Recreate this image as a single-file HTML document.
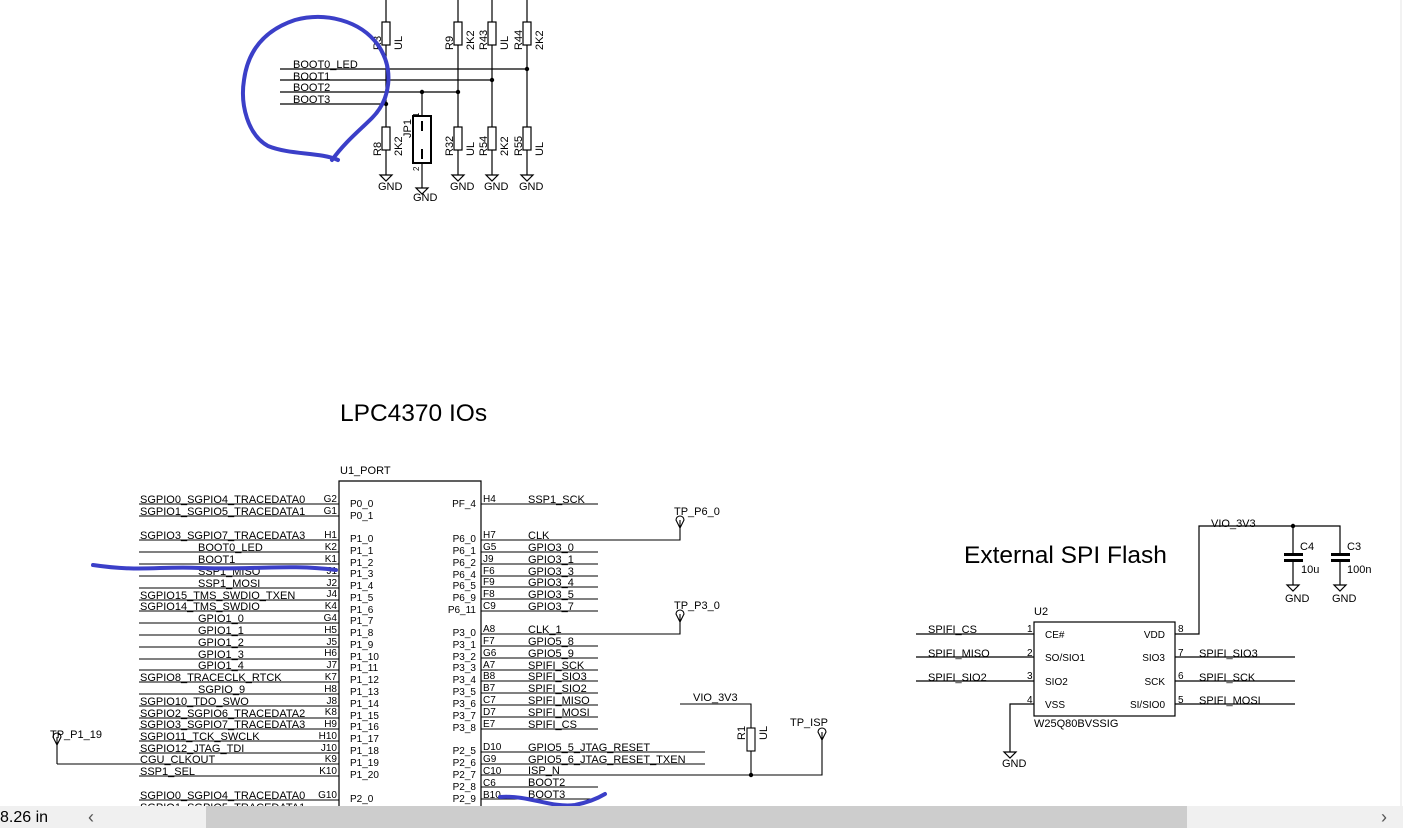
<!DOCTYPE html>
<html><head><meta charset="utf-8"><style>
body{margin:0;width:1403px;height:828px;overflow:hidden;background:#fff;position:relative}
svg{position:absolute;left:0;top:0}
text{font-family:"Liberation Sans",Arial,sans-serif;fill:#000}
.s{font-size:11px}.p{font-size:10px}
.bar{position:absolute;left:0;top:806px;width:1403px;height:22px;background:#f0f0f0}
</style></head><body>
<svg width="1403" height="828" viewBox="0 0 1403 828">
<g stroke="#000" stroke-width="1.2" fill="none">
<line x1="386" y1="0" x2="386" y2="175"/>
<line x1="458" y1="0" x2="458" y2="175"/>
<line x1="492" y1="0" x2="492" y2="175"/>
<line x1="527" y1="0" x2="527" y2="175"/>
<line x1="280" y1="69" x2="527" y2="69"/>
<line x1="280" y1="80" x2="492" y2="80"/>
<line x1="280" y1="92" x2="458" y2="92"/>
<line x1="280" y1="104" x2="386" y2="104"/>
<line x1="422" y1="92" x2="422" y2="188"/>
<rect x="382" y="22" width="8" height="23" fill="#fff"/>
<rect x="454" y="22" width="8" height="23" fill="#fff"/>
<rect x="488" y="22" width="8" height="23" fill="#fff"/>
<rect x="523" y="22" width="8" height="23" fill="#fff"/>
<rect x="382" y="127" width="8" height="23" fill="#fff"/>
<rect x="454" y="127" width="8" height="23" fill="#fff"/>
<rect x="488" y="127" width="8" height="23" fill="#fff"/>
<rect x="523" y="127" width="8" height="23" fill="#fff"/>
<rect x="413" y="116" width="18" height="47" fill="#fff" stroke-width="2"/>
<line x1="422" y1="121" x2="422" y2="131" stroke-width="2"/>
<line x1="422" y1="149" x2="422" y2="159" stroke-width="2"/>
<path d="M380 175h12l-6 6z M452 175h12l-6 6z M486 175h12l-6 6z M521 175h12l-6 6z M416 188h12l-6 6z"/>
</g>
<g fill="#000"><circle cx="527" cy="69" r="2.2"/><circle cx="492" cy="80" r="2.2"/><circle cx="458" cy="92" r="2.2"/><circle cx="422" cy="92" r="2.2"/><circle cx="386" cy="104" r="2.2"/></g>
<g class="s">
<text x="293" y="68">BOOT0_LED</text><text x="293" y="80">BOOT1</text><text x="293" y="91">BOOT2</text><text x="293" y="103">BOOT3</text>
<text x="378" y="190">GND</text><text x="450" y="190">GND</text><text x="484" y="190">GND</text><text x="519" y="190">GND</text><text x="413" y="201">GND</text>
</g>
<g class="s">
<text transform="translate(381,50) rotate(-90)">R3</text><text transform="translate(402,50) rotate(-90)">UL</text>
<text transform="translate(453,50) rotate(-90)">R9</text><text transform="translate(474,50) rotate(-90)">2K2</text>
<text transform="translate(487,50) rotate(-90)">R43</text><text transform="translate(508,50) rotate(-90)">UL</text>
<text transform="translate(522,50) rotate(-90)">R44</text><text transform="translate(543,50) rotate(-90)">2K2</text>
<text transform="translate(381,156) rotate(-90)">R8</text><text transform="translate(402,156) rotate(-90)">2K2</text>
<text transform="translate(453,156) rotate(-90)">R32</text><text transform="translate(474,156) rotate(-90)">UL</text>
<text transform="translate(487,156) rotate(-90)">R54</text><text transform="translate(508,156) rotate(-90)">2K2</text>
<text transform="translate(522,156) rotate(-90)">R55</text><text transform="translate(543,156) rotate(-90)">UL</text>
<text transform="translate(411,138) rotate(-90)">JP1</text>
<text transform="translate(419,117) rotate(-90)" style="font-size:8px">1</text>
<text transform="translate(419,171) rotate(-90)" style="font-size:8px">2</text>
</g>

<text x="340" y="421" style="font-size:24.5px">LPC4370 IOs</text>
<text class="s" x="340" y="474">U1_PORT</text>
<g stroke="#000" stroke-width="1.2" fill="none">
<path d="M339 806V481H481V806"/>
</g>
<g stroke="#000" stroke-width="1.1">
<line x1="139" y1="504" x2="339" y2="504"/><line x1="139" y1="516" x2="339" y2="516"/>
<line x1="139" y1="540" x2="339" y2="540"/><line x1="139" y1="552" x2="339" y2="552"/>
<line x1="139" y1="564" x2="339" y2="564"/><line x1="139" y1="576" x2="339" y2="576"/>
<line x1="139" y1="588" x2="339" y2="588"/><line x1="139" y1="600" x2="339" y2="600"/>
<line x1="139" y1="611" x2="339" y2="611"/><line x1="139" y1="623" x2="339" y2="623"/>
<line x1="139" y1="635" x2="339" y2="635"/><line x1="139" y1="647" x2="339" y2="647"/>
<line x1="139" y1="659" x2="339" y2="659"/><line x1="139" y1="670" x2="339" y2="670"/>
<line x1="139" y1="682" x2="339" y2="682"/><line x1="139" y1="694" x2="339" y2="694"/>
<line x1="139" y1="706" x2="339" y2="706"/><line x1="139" y1="718" x2="339" y2="718"/>
<line x1="139" y1="729" x2="339" y2="729"/><line x1="139" y1="741" x2="339" y2="741"/>
<line x1="139" y1="753" x2="339" y2="753"/><line x1="57" y1="764" x2="339" y2="764"/>
<line x1="139" y1="776" x2="339" y2="776"/><line x1="139" y1="800" x2="339" y2="800"/>
<line x1="57" y1="745" x2="57" y2="764"/>
</g>
<g class="s">
<text x="140" y="503">SGPIO0_SGPIO4_TRACEDATA0</text><text x="140" y="515">SGPIO1_SGPIO5_TRACEDATA1</text>
<text x="140" y="539">SGPIO3_SGPIO7_TRACEDATA3</text><text x="198" y="551">BOOT0_LED</text>
<text x="198" y="563">BOOT1</text><text x="198" y="575">SSP1_MISO</text><text x="198" y="587">SSP1_MOSI</text>
<text x="140" y="599">SGPIO15_TMS_SWDIO_TXEN</text><text x="140" y="610">SGPIO14_TMS_SWDIO</text>
<text x="198" y="622">GPIO1_0</text><text x="198" y="634">GPIO1_1</text><text x="198" y="646">GPIO1_2</text>
<text x="198" y="658">GPIO1_3</text><text x="198" y="669">GPIO1_4</text>
<text x="140" y="681">SGPIO8_TRACECLK_RTCK</text><text x="198" y="693">SGPIO_9</text>
<text x="140" y="705">SGPIO10_TDO_SWO</text><text x="140" y="717">SGPIO2_SGPIO6_TRACEDATA2</text>
<text x="140" y="728">SGPIO3_SGPIO7_TRACEDATA3</text><text x="140" y="740">SGPIO11_TCK_SWCLK</text>
<text x="140" y="752">SGPIO12_JTAG_TDI</text><text x="140" y="763">CGU_CLKOUT</text>
<text x="140" y="775">SSP1_SEL</text><text x="140" y="799">SGPIO0_SGPIO4_TRACEDATA0</text>
<text x="140" y="811">SGPIO1_SGPIO5_TRACEDATA1</text>
<text x="50" y="738">TP_P1_19</text>
</g>
<g class="p" text-anchor="end">
<text x="337" y="502">G2</text><text x="337" y="514">G1</text><text x="337" y="538">H1</text><text x="337" y="550">K2</text>
<text x="337" y="562">K1</text><text x="337" y="574">J1</text><text x="337" y="586">J2</text><text x="337" y="597">J4</text>
<text x="337" y="609">K4</text><text x="337" y="621">G4</text><text x="337" y="633">H5</text><text x="337" y="645">J5</text>
<text x="337" y="656">H6</text><text x="337" y="668">J7</text><text x="337" y="680">K7</text><text x="337" y="692">H8</text>
<text x="337" y="704">J8</text><text x="337" y="715">K8</text><text x="337" y="727">H9</text><text x="337" y="739">H10</text>
<text x="337" y="751">J10</text><text x="337" y="762">K9</text><text x="337" y="774">K10</text><text x="337" y="798">G10</text>
</g>
<g class="p">
<text x="350" y="507">P0_0</text><text x="350" y="519">P0_1</text><text x="350" y="542">P1_0</text><text x="350" y="554">P1_1</text>
<text x="350" y="566">P1_2</text><text x="350" y="577">P1_3</text><text x="350" y="589">P1_4</text><text x="350" y="601">P1_5</text>
<text x="350" y="613">P1_6</text><text x="350" y="624">P1_7</text><text x="350" y="636">P1_8</text><text x="350" y="648">P1_9</text>
<text x="350" y="660">P1_10</text><text x="350" y="671">P1_11</text><text x="350" y="683">P1_12</text><text x="350" y="695">P1_13</text>
<text x="350" y="707">P1_14</text><text x="350" y="719">P1_15</text><text x="350" y="730">P1_16</text><text x="350" y="742">P1_17</text>
<text x="350" y="754">P1_18</text><text x="350" y="766">P1_19</text><text x="350" y="778">P1_20</text><text x="350" y="802">P2_0</text>
</g>
<g class="p" text-anchor="end">
<text x="476" y="507">PF_4</text><text x="476" y="542">P6_0</text><text x="476" y="554">P6_1</text><text x="476" y="566">P6_2</text>
<text x="476" y="578">P6_4</text><text x="476" y="589">P6_5</text><text x="476" y="601">P6_9</text><text x="476" y="613">P6_11</text>
<text x="476" y="636">P3_0</text><text x="476" y="648">P3_1</text><text x="476" y="660">P3_2</text><text x="476" y="671">P3_3</text>
<text x="476" y="683">P3_4</text><text x="476" y="695">P3_5</text><text x="476" y="707">P3_6</text><text x="476" y="719">P3_7</text>
<text x="476" y="731">P3_8</text><text x="476" y="754">P2_5</text><text x="476" y="766">P2_6</text><text x="476" y="778">P2_7</text>
<text x="476" y="790">P2_8</text><text x="476" y="802">P2_9</text>
</g>
<g stroke="#000" stroke-width="1.1" fill="none">
<line x1="481" y1="504" x2="598" y2="504"/>
<path d="M481 540H680V528"/>
<line x1="481" y1="552" x2="598" y2="552"/><line x1="481" y1="564" x2="598" y2="564"/>
<line x1="481" y1="576" x2="598" y2="576"/><line x1="481" y1="587" x2="598" y2="587"/>
<line x1="481" y1="599" x2="598" y2="599"/><line x1="481" y1="611" x2="598" y2="611"/>
<path d="M481 634H680V622"/>
<line x1="481" y1="646" x2="598" y2="646"/><line x1="481" y1="658" x2="598" y2="658"/>
<line x1="481" y1="670" x2="598" y2="670"/><line x1="481" y1="681" x2="598" y2="681"/>
<line x1="481" y1="693" x2="598" y2="693"/><line x1="481" y1="705" x2="598" y2="705"/>
<line x1="481" y1="717" x2="598" y2="717"/><line x1="481" y1="729" x2="598" y2="729"/>
<line x1="481" y1="752" x2="705" y2="752"/><line x1="481" y1="764" x2="705" y2="764"/>
<path d="M481 775H822V740"/>
<line x1="481" y1="787" x2="598" y2="787"/><line x1="481" y1="799" x2="598" y2="799"/>
<path d="M680 704H751V775"/>
<rect x="747" y="728" width="8" height="23" fill="#fff"/>
<path d="M680 528l-4-8a4 4 0 1 1 8 0z M680 520v8"/>
<path d="M680 622l-4-8a4 4 0 1 1 8 0z M680 614v8"/>
<path d="M822 740l-4-8a4 4 0 1 1 8 0z M822 732v8"/>
<path d="M57 745l-4-8a4 4 0 1 1 8 0z M57 737v8"/>
</g>
<circle cx="751" cy="775" r="2.2" fill="#000"/>
<g class="p">
<text x="483" y="502">H4</text><text x="483" y="538">H7</text><text x="483" y="550">G5</text><text x="483" y="562">J9</text>
<text x="483" y="574">F6</text><text x="483" y="585">F9</text><text x="483" y="597">F8</text><text x="483" y="609">C9</text>
<text x="483" y="632">A8</text><text x="483" y="644">F7</text><text x="483" y="656">G6</text><text x="483" y="668">A7</text>
<text x="483" y="679">B8</text><text x="483" y="691">B7</text><text x="483" y="703">C7</text><text x="483" y="715">D7</text>
<text x="483" y="727">E7</text><text x="483" y="750">D10</text><text x="483" y="762">G9</text><text x="483" y="774">C10</text>
<text x="483" y="786">C6</text><text x="483" y="798">B10</text>
</g>
<g class="s">
<text x="528" y="503">SSP1_SCK</text><text x="528" y="539">CLK</text><text x="528" y="551">GPIO3_0</text><text x="528" y="563">GPIO3_1</text>
<text x="528" y="575">GPIO3_3</text><text x="528" y="586">GPIO3_4</text><text x="528" y="598">GPIO3_5</text><text x="528" y="610">GPIO3_7</text>
<text x="528" y="633">CLK_1</text><text x="528" y="645">GPIO5_8</text><text x="528" y="657">GPIO5_9</text><text x="528" y="669">SPIFI_SCK</text>
<text x="528" y="680">SPIFI_SIO3</text><text x="528" y="692">SPIFI_SIO2</text><text x="528" y="704">SPIFI_MISO</text>
<text x="528" y="716">SPIFI_MOSI</text><text x="528" y="728">SPIFI_CS</text><text x="528" y="751">GPIO5_5_JTAG_RESET</text>
<text x="528" y="763">GPIO5_6_JTAG_RESET_TXEN</text><text x="528" y="774">ISP_N</text><text x="528" y="786">BOOT2</text>
<text x="528" y="798">BOOT3</text>
<text x="674" y="515">TP_P6_0</text><text x="674" y="609">TP_P3_0</text>
<text x="693" y="701">VIO_3V3</text><text x="790" y="726">TP_ISP</text>
<text transform="translate(745,740) rotate(-90)">R1</text><text transform="translate(767,740) rotate(-90)">UL</text>
</g>

<text x="964" y="563" style="font-size:24.5px">External SPI Flash</text>
<g stroke="#000" stroke-width="1.2" fill="none">
<rect x="1034" y="622" width="141" height="94"/>
<line x1="916" y1="634" x2="1034" y2="634"/><line x1="916" y1="657" x2="1034" y2="657"/>
<line x1="916" y1="681" x2="1034" y2="681"/>
<path d="M1034 704H1010V752"/>
<path d="M1175 634H1199V526H1340V585"/>
<line x1="1293" y1="526" x2="1293" y2="585"/>
<line x1="1175" y1="657" x2="1295" y2="657"/><line x1="1175" y1="681" x2="1295" y2="681"/>
<line x1="1175" y1="704" x2="1295" y2="704"/>
<path d="M1004 752h12l-6 6z M1287 585h12l-6 6z M1334 585h12l-6 6z"/>
</g>
<rect x="1284" y="554" width="19" height="8" fill="#fff"/>
<rect x="1331" y="554" width="19" height="8" fill="#fff"/>
<g fill="#000">
<rect x="1284" y="553" width="19" height="3"/><rect x="1284" y="559" width="19" height="3"/>
<rect x="1331" y="553" width="19" height="3"/><rect x="1331" y="559" width="19" height="3"/>
<circle cx="1293" cy="526" r="2.2"/>
</g>
<g class="s">
<text x="1034" y="615">U2</text><text x="1034" y="727">W25Q80BVSSIG</text>
<text x="928" y="633">SPIFI_CS</text><text x="928" y="657">SPIFI_MISO</text><text x="928" y="681">SPIFI_SIO2</text>
<text x="1199" y="657">SPIFI_SIO3</text><text x="1199" y="681">SPIFI_SCK</text><text x="1199" y="704">SPIFI_MOSI</text>
<text x="1211" y="527">VIO_3V3</text>
<text x="1300" y="550">C4</text><text x="1301" y="573">10u</text><text x="1347" y="550">C3</text><text x="1347" y="573">100n</text>
<text x="1285" y="602">GND</text><text x="1332" y="602">GND</text><text x="1002" y="767">GND</text>
</g>
<g class="p">
<text x="1045" y="638">CE#</text><text x="1045" y="661">SO/SIO1</text><text x="1045" y="685">SIO2</text><text x="1045" y="708">VSS</text>
<text x="1165" y="638" text-anchor="end">VDD</text><text x="1165" y="661" text-anchor="end">SIO3</text>
<text x="1165" y="685" text-anchor="end">SCK</text><text x="1165" y="708" text-anchor="end">SI/SIO0</text>
<text x="1027" y="632">1</text><text x="1027" y="656">2</text><text x="1027" y="679">3</text><text x="1027" y="703">4</text>
<text x="1178" y="632">8</text><text x="1178" y="656">7</text><text x="1178" y="679">6</text><text x="1178" y="703">5</text>
</g>

<g stroke="#3b3fc8" stroke-width="4" fill="none" stroke-linecap="round">
<path d="M338 160C320 152 290 155 268 146C248 135 240 105 244 80C248 50 265 30 295 20C325 12 360 20 378 45C395 70 390 100 372 118C360 130 345 142 332 160"/>
<path d="M93 565C140 572 160 566 200 568C250 570 290 564 336 570"/>
<path d="M500 797C530 795 550 808 575 805C590 802 600 797 605 794"/>
</g>
<line x1="1401" y1="0" x2="1401" y2="806" stroke="#e6e6e6"/>
</svg>
<div class="bar">
 <div style="position:absolute;left:0;top:0;width:82px;height:22px;background:#f0f0f0;font:16px 'Liberation Sans',sans-serif;line-height:24px">8.26 in</div>
 <div style="position:absolute;left:88px;top:0;font:18px 'Liberation Sans',sans-serif;color:#555;line-height:22px">&#8249;</div>
 <div style="position:absolute;left:206px;top:0;width:981px;height:22px;background:#cdcdcd"></div>
 <div style="position:absolute;left:1381px;top:0;font:18px 'Liberation Sans',sans-serif;color:#555;line-height:22px">&#8250;</div>
</div>
</body></html>
